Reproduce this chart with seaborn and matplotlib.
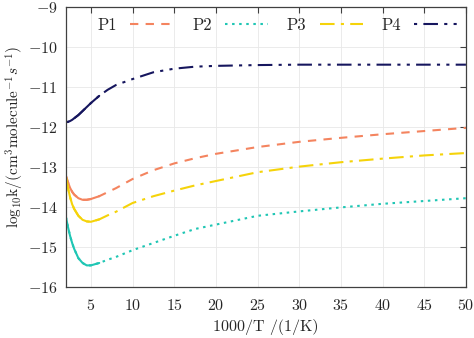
import matplotlib
matplotlib.use("Agg")
import matplotlib.pyplot as plt
import seaborn as sns
import numpy as np

x = [2, 2.25, 2.5, 2.75, 3, 3.5, 4, 4.5, 5, 6, 7, 8, 10, 12.5, 15, 17.5, 20, 25, 30, 35, 40, 45, 50]
p1 = [-13.22, -13.38, -13.52, -13.62, -13.69, -13.78, -13.82, -13.82, -13.80, -13.73, -13.63, -13.53, -13.30,
      -13.08, -12.91, -12.78, -12.67, -12.50, -12.37, -12.27, -12.18, -12.10, -12.02]
p2 = [-14.25, -14.50, -14.72, -14.90, -15.05, -15.28, -15.40, -15.46, -15.46, -15.40, -15.32, -15.25, -15.08,
      -14.90, -14.72, -14.55, -14.44, -14.22, -14.11, -14.01, -13.92, -13.85, -13.78]
p3 = [-13.25, -13.52, -13.75, -13.93, -14.05, -14.22, -14.32, -14.36, -14.37, -14.31, -14.21, -14.12, -13.90,
      -13.73, -13.59, -13.46, -13.35, -13.13, -12.99, -12.88, -12.79, -12.71, -12.65]
p4 = [-11.88, -11.87, -11.85, -11.82, -11.78, -11.70, -11.60, -11.50, -11.40, -11.22, -11.07, -10.95, -10.80,
      -10.63, -10.54, -10.49, -10.47, -10.45, -10.44, -10.44, -10.44, -10.44, -10.44]

labels = ["P1", "P2", "P3", "P4"]
colors = ["#f4845f", "#1fc6b4", "#f5d30a", "#16165e"]
styles = [(0, (4, 3.5)), (0, (1.2, 2.2)), (0, (7, 3, 1.5, 3)), (0, (1.5, 3, 7, 3, 1.5, 3))]

sns.set_style("white")
plt.rcParams["font.family"] = ["cmr10", "DejaVu Serif"]
plt.rcParams["mathtext.fontset"] = "cm"
plt.rcParams["axes.formatter.use_mathtext"] = True
plt.rcParams["font.size"] = 11.5

fig = plt.figure(figsize=(4.74, 3.38), dpi=100)
ax = fig.add_axes([0.139, 0.151, 0.844, 0.828])

xs = np.array(x)
for lab, ys, c, ls in zip(labels, [p1, p2, p3, p4], colors, styles):
    ys = np.array(ys)
    sns.lineplot(x=xs, y=ys, ax=ax, color=c, linestyle=ls, linewidth=1.5, label=lab)
    m = xs <= 6
    sns.lineplot(x=xs[m], y=ys[m], ax=ax, color=c, linewidth=1.5, label="_nolegend_")

ax.set_xlim(2, 50)
ax.set_ylim(-16, -9)
ax.set_xticks([5, 10, 15, 20, 25, 30, 35, 40, 45, 50])
ax.set_yticks([-16, -15, -14, -13, -12, -11, -10, -9])
ax.grid(True, color="#e8e8e8", linewidth=0.6)
ax.tick_params(direction="in", top=True, right=True, length=4, width=0.8,
               color="#404040", labelsize=11.5)
ax.tick_params(axis="x", pad=8)
ax.tick_params(axis="y", pad=6)
for s in ax.spines.values():
    s.set_color("#404040")
    s.set_linewidth(0.9)

ax.set_xlabel("1000/T /(1/K)", fontsize=11.5, labelpad=4)
ax.set_ylabel(r"$\mathrm{log_{10}k/(cm^3molecule^{-1}}s^{-1}\mathrm{)}$", fontsize=11)
ax.yaxis.set_label_coords(-0.1, 0.535)

leg = ax.legend(ncol=4, loc="upper left", bbox_to_anchor=(0.05, 1.005), frameon=False,
                markerfirst=False, handlelength=2.6, handletextpad=0.8, columnspacing=1.1,
                fontsize=12, borderaxespad=0.3)

fig.savefig("out.png", dpi=100)
